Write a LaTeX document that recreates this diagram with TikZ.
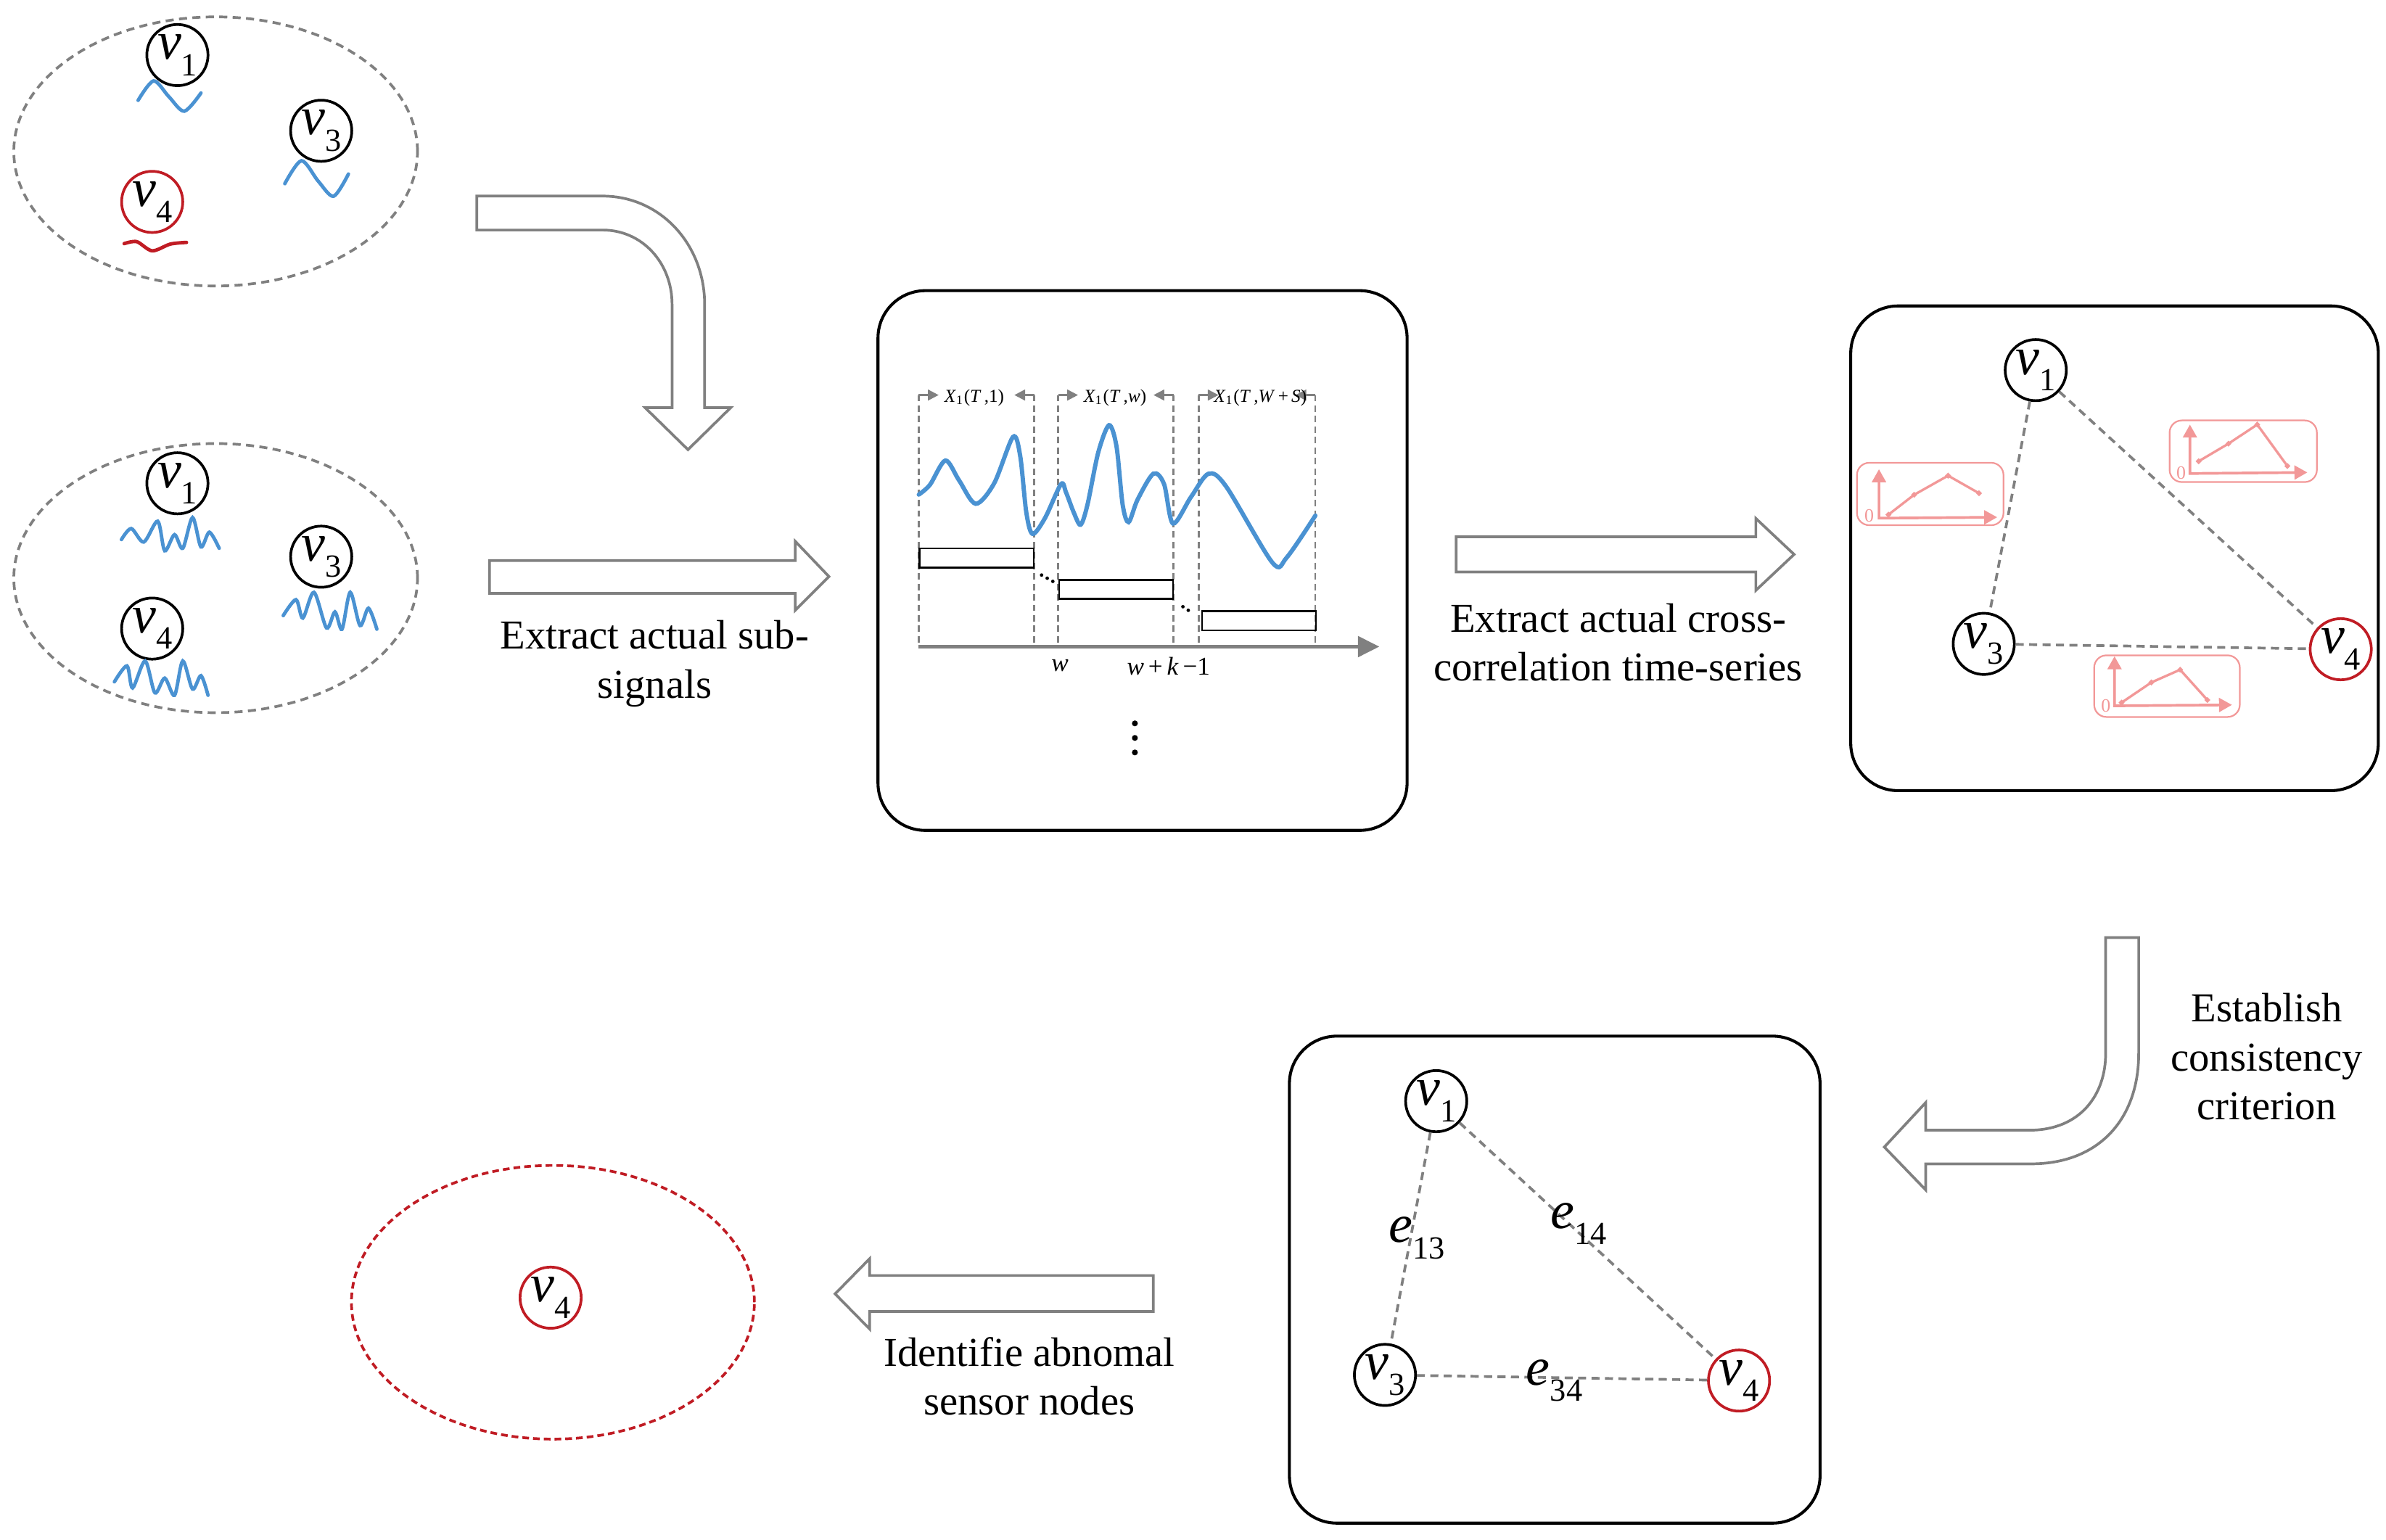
\documentclass[tikz,border=0pt]{standalone}
\usepackage{fontspec}
\setmainfont{Liberation Serif}
\usetikzlibrary{arrows.meta}
\usetikzlibrary{shapes.geometric}

\definecolor{linegray}{RGB}{128,128,128}
\definecolor{sigblue}{RGB}{74,146,210}
\definecolor{faultred}{RGB}{192,28,36}
\definecolor{chartpink}{RGB}{242,152,152}

\newcommand{\sensorlab}[1]{\fontsize{20}{20}\selectfont\textit{v}\raisebox{-6pt}{\fontsize{12}{12}\selectfont #1}}
\newcommand{\edgelab}[1]{\fontsize{20}{20}\selectfont\textit{e}\raisebox{-6pt}{\fontsize{12}{12}\selectfont #1}}

\begin{document}
\begin{tikzpicture}[x=0.02cm, y=-0.02cm,
	sensornode/.style={circle, draw, line width=1pt, inner sep=0pt, minimum size=0.8cm},
	faultnode/.style={sensornode, draw=faultred},
	netellipse/.style={ellipse, draw=linegray, line width=1pt, dash pattern=on 3pt off 2pt, inner sep=0pt, minimum width=5.28cm, minimum height=3.52cm},
	panel/.style={draw, line width=1.1pt, rounded corners=0.62cm, inner sep=0pt},
	link/.style={draw=linegray, line width=1pt, dash pattern=on 3pt off 2pt},
	blockarrow/.style={draw=linegray, line width=1pt, fill=white},
	caption/.style={align=center, font=\fontsize{15.3}{18.2}\selectfont},
	wave/.style={sigblue, line width=1.3pt, line cap=round},
	signal/.style={sigblue, line width=1.6pt, line cap=round},
	winline/.style={linegray, line width=0.7pt, dash pattern=on 2.4pt off 1.5pt},
	winarrow/.style={linegray, line width=0.7pt, -{Triangle[length=4pt, width=4pt]}},
	subwin/.style={draw, line width=0.7pt},
	winlab/.style={font=\fontsize{6.8}{6.8}\selectfont, inner sep=0pt},
	axislab/.style={font=\fontsize{9.5}{9.5}\selectfont, inner sep=0pt},
	chartbox/.style={draw=chartpink, line width=0.6pt, rounded corners=0.16cm},
	chartaxis/.style={chartpink, line width=1pt, {Triangle[length=0.17cm, width=0.18cm]}-{Triangle[length=0.17cm, width=0.18cm]}},
	chartline/.style={chartpink, line width=0.9pt, mark=*, mark size=0.5pt, mark options={chartpink}},
	zerolab/.style={text=chartpink, font=\fontsize{7}{7}\selectfont, inner sep=0pt},
	]
	\useasboundingbox (0,0) rectangle (1560,1006.5);

	% Sensor network, normal signals
	\node[netellipse] (net1) at (141,99) {};
	\node[sensornode] (a1) at (116,36) {\sensorlab{1}};
	\node[sensornode] (a3) at (210,85.5) {\sensorlab{3}};
	\node[faultnode] (a4) at (99.5,132) {\sensorlab{4}};
	\draw[wave] plot[smooth] coordinates {(90.3,65.6) (100.4,52.9) (110.4,63.2) (120.5,72.7) (131.4,60.8)};
	\draw[wave] plot[smooth] coordinates {(186.2,120.1) (197.1,105.1) (208.1,118.5) (218.1,128.3) (227.8,113.8)};
	\draw[wave, faultred] plot[smooth] coordinates {(81.2,159.3) (89.4,158) (99.5,164) (111.3,159.6) (121.9,158.5)};

	% Sensor network, noisy signals
	\node[netellipse] (net2) at (141,378) {};
	\node[sensornode] (b1) at (116,316) {\sensorlab{1}};
	\node[sensornode] (b3) at (210,364) {\sensorlab{3}};
	\node[sensornode] (b4) at (99.5,411) {\sensorlab{4}};
	\draw[wave] plot[smooth, tension=0.5] coordinates {(79.4,352.8) (85.8,345.6) (94,354.4) (103.1,340.8) (107.7,360.1) (114.1,349.6) (119.5,358.5) (125.9,338.4) (131.4,357.6) (136.9,348) (143.3,358.5)};
	\draw[wave] plot[smooth, tension=0.5] coordinates {(185.2,402.5) (193.5,392.1) (198,404.1) (205.3,387.3) (213.5,410.6) (219,400.1) (223.6,411.4) (229,387.3) (235.4,409) (240.9,397.7) (246.4,411.4)};
	\draw[wave] plot[smooth, tension=0.5] coordinates {(74.8,445.8) (83,435.4) (86.7,449.8) (94.9,432.2) (101.3,453) (107.7,443.4) (114.1,454.6) (119.5,432.2) (125.9,450.6) (131.4,441.8) (136,454.6)};

	% Arrows
	\draw[blockarrow] (311.7,128.2) -- (394,128.2)
		.. controls (432,128.2) and (460.7,160) .. (460.7,199)
		-- (460.7,266.6) -- (477.7,266.6) -- (449.8,294) -- (421.8,266.6) -- (439.4,266.6) -- (439.4,199)
		.. controls (439.4,172) and (420,150.4) .. (394,150.4)
		-- (311.7,150.4) -- cycle;
	\draw[blockarrow] (320,366.5) -- (520,366.5) -- (520,354) -- (542,377) -- (520,399) -- (520,388) -- (320,388) -- cycle;
	\draw[blockarrow] (952,351) -- (1148,351) -- (1148,339) -- (1173,362.5) -- (1148,386) -- (1148,374) -- (952,374) -- cycle;
	\draw[blockarrow] (1376.7,613) -- (1398.3,613) -- (1398.3,688.8)
		.. controls (1398.3,732) and (1372,761) .. (1327.9,761)
		-- (1259,761) -- (1259,778) -- (1232,750) -- (1259,721) -- (1259,739) -- (1326.8,739)
		.. controls (1360,739) and (1376.7,716) .. (1376.7,688.8) -- cycle;
	\draw[blockarrow] (754,834) -- (568.6,834) -- (568.6,823) -- (546,846) -- (568.6,869) -- (568.6,857.5) -- (754,857.5) -- cycle;

	% Captions
	\node[caption] (cap1) at (428,434) {Extract actual sub-\\signals};
	\node[caption] (cap2) at (1058,420) {Extract actual cross-\\correlation time-series};
	\node[caption] (cap3) at (1482,691) {Establish\\consistency\\criterion};
	\node[caption] (cap4) at (673,900) {Identifie abnomal\\sensor nodes};

	% Sliding windows
	\node[panel, minimum width=6.92cm, minimum height=7.06cm] (windows) at (747,366.5) {};
	\foreach \xa/\xb in {600.7/676.2, 691.8/767.2, 783.7/860}{
		\draw[winline] (\xa,258.3) -- (\xa,421);
		\draw[winline] (\xb,258.3) -- (\xb,421);
		\draw[winarrow] (\xa,258.3) -- ++(13,0);
		\draw[winarrow] (\xb,258.3) -- ++(-13,0);
	}
	\node[winlab] (x1) at (637,260) {\textit{X}\textsubscript{1}(\textit{T}\,,1)};
	\node[winlab] (x2) at (729,260) {\textit{X}\textsubscript{1}(\textit{T}\,,\textit{w})};
	\node[winlab] (x3) at (824,260) {\textit{X}\textsubscript{1}(\textit{T}\,,\textit{W}\,+\,\textit{S})};
	\draw[signal] plot[smooth, tension=0.5] coordinates {(600.7,323.4) (608,317) (618.1,301.1) (627,314) (637.9,329.4) (650,316) (662.3,285.7) (667,298) (671,335) (675.1,349.1) (683.2,338.8) (693.7,316.6) (697,322) (702,335) (706.5,343.1) (711,330) (718,296) (725.1,278) (730,292) (734,330) (737.9,341.4) (743.7,326.8) (754.1,309.7) (761.1,316.6) (766.9,342.3) (778.6,325.1) (790.2,309.7) (801.8,318.3) (832,368) (841.3,364.5) (860,337.1)};
	\draw[subwin] (601.2,358.5) rectangle (675.8,371);
	\draw[subwin] (692.5,379.1) rectangle (766.9,391.6);
	\draw[subwin] (786,399.6) rectangle (860.4,412.1);
	\draw[line width=1.3pt, line cap=round, dash pattern=on 0pt off 2.4pt] (681,376) -- (689,380.5);
	\draw[line width=1.3pt, line cap=round, dash pattern=on 0pt off 2.4pt] (773.4,396.7) -- (780.4,401.4);
	\draw[linegray, line width=1.2pt, -{Triangle[length=0.28cm, width=0.27cm]}] (600.7,422.8) -- (901.8,422.8);
	\node[axislab] (lw) at (693,435) {\textit{w}};
	\node[axislab] (lwk) at (764,435.5) {\textit{w}\,+\,\textit{k}\,−1};
	\foreach \y in {473,482.5,492}
		\fill (742,\y) circle (1.1pt);

	% Cross-correlation graph
	\node[panel, minimum width=6.9cm, minimum height=6.34cm] (corr) at (1382.5,358.5) {};
	\node[sensornode] (g1) at (1331,242) {\sensorlab{1}};
	\node[sensornode] (g3) at (1297,421) {\sensorlab{3}};
	\node[faultnode] (g4) at (1530.4,424.5) {\sensorlab{4}};
	\draw[link] (g1) -- (g3);
	\draw[link] (g1) -- (g4);
	\draw[link] (g3) -- (g4);
	\begin{scope}[shift={(1214.1,343.4)}, yscale=-1]
		\draw[chartbox] (0,0) rectangle (95.8,40.8);
		\draw[chartaxis] (14.4,36.6) -- (14.4,4.6) -- (91.7,5.2);
		\draw[chartline] plot coordinates {(20.6,6.9) (37.4,19.9) (59.6,32.4) (79.8,20.9)};
		\node[zerolab] (z1) at (8,6.3) {0};
	\end{scope}
	\begin{scope}[shift={(1418.5,315.2)}, yscale=-1]
		\draw[chartbox] (0,0) rectangle (96.3,40.3);
		\draw[chartaxis] (13.3,37.6) -- (13.3,5.6) -- (90.1,6.3);
		\draw[chartline] plot coordinates {(19,13.6) (38.5,25.1) (57.3,37.6) (77,10.5)};
		\node[zerolab] (z2) at (7.6,5.9) {0};
	\end{scope}
	\begin{scope}[shift={(1369.2,468.8)}, yscale=-1]
		\draw[chartbox] (0,0) rectangle (95.2,40.3);
		\draw[chartaxis] (13.3,39.7) -- (13.3,7.3) -- (90.1,7.9);
		\draw[chartline] plot coordinates {(17.9,9.4) (37.4,22.6) (56.2,30.9) (74,11.1)};
		\node[zerolab] (z3) at (7.6,7.3) {0};
	\end{scope}

	% Consistency graph
	\node[panel, minimum width=6.94cm, minimum height=6.37cm] (graph) at (1016.5,836.7) {};
	\node[sensornode] (h1) at (939,720) {\sensorlab{1}};
	\node[sensornode] (h3) at (905.5,899) {\sensorlab{3}};
	\node[faultnode] (h4) at (1137,902.7) {\sensorlab{4}};
	\draw[link] (h1) -- node[xshift=0.08cm] (e13) {\edgelab{13}} (h3);
	\draw[link] (h1) -- node[xshift=-0.12cm, yshift=0.22cm] (e14) {\edgelab{14}} (h4);
	\draw[link] (h3) -- node[xshift=-0.1cm, yshift=-0.04cm] (e34) {\edgelab{34}} (h4);

	% Abnormal node
	\node[netellipse, draw=faultred, dash pattern=on 2.5pt off 1.5pt, minimum width=5.27cm, minimum height=3.58cm] (result) at (361.5,851.5) {};
	\node[faultnode] (r4) at (360,848.5) {\sensorlab{4}};
\end{tikzpicture}
\end{document}
